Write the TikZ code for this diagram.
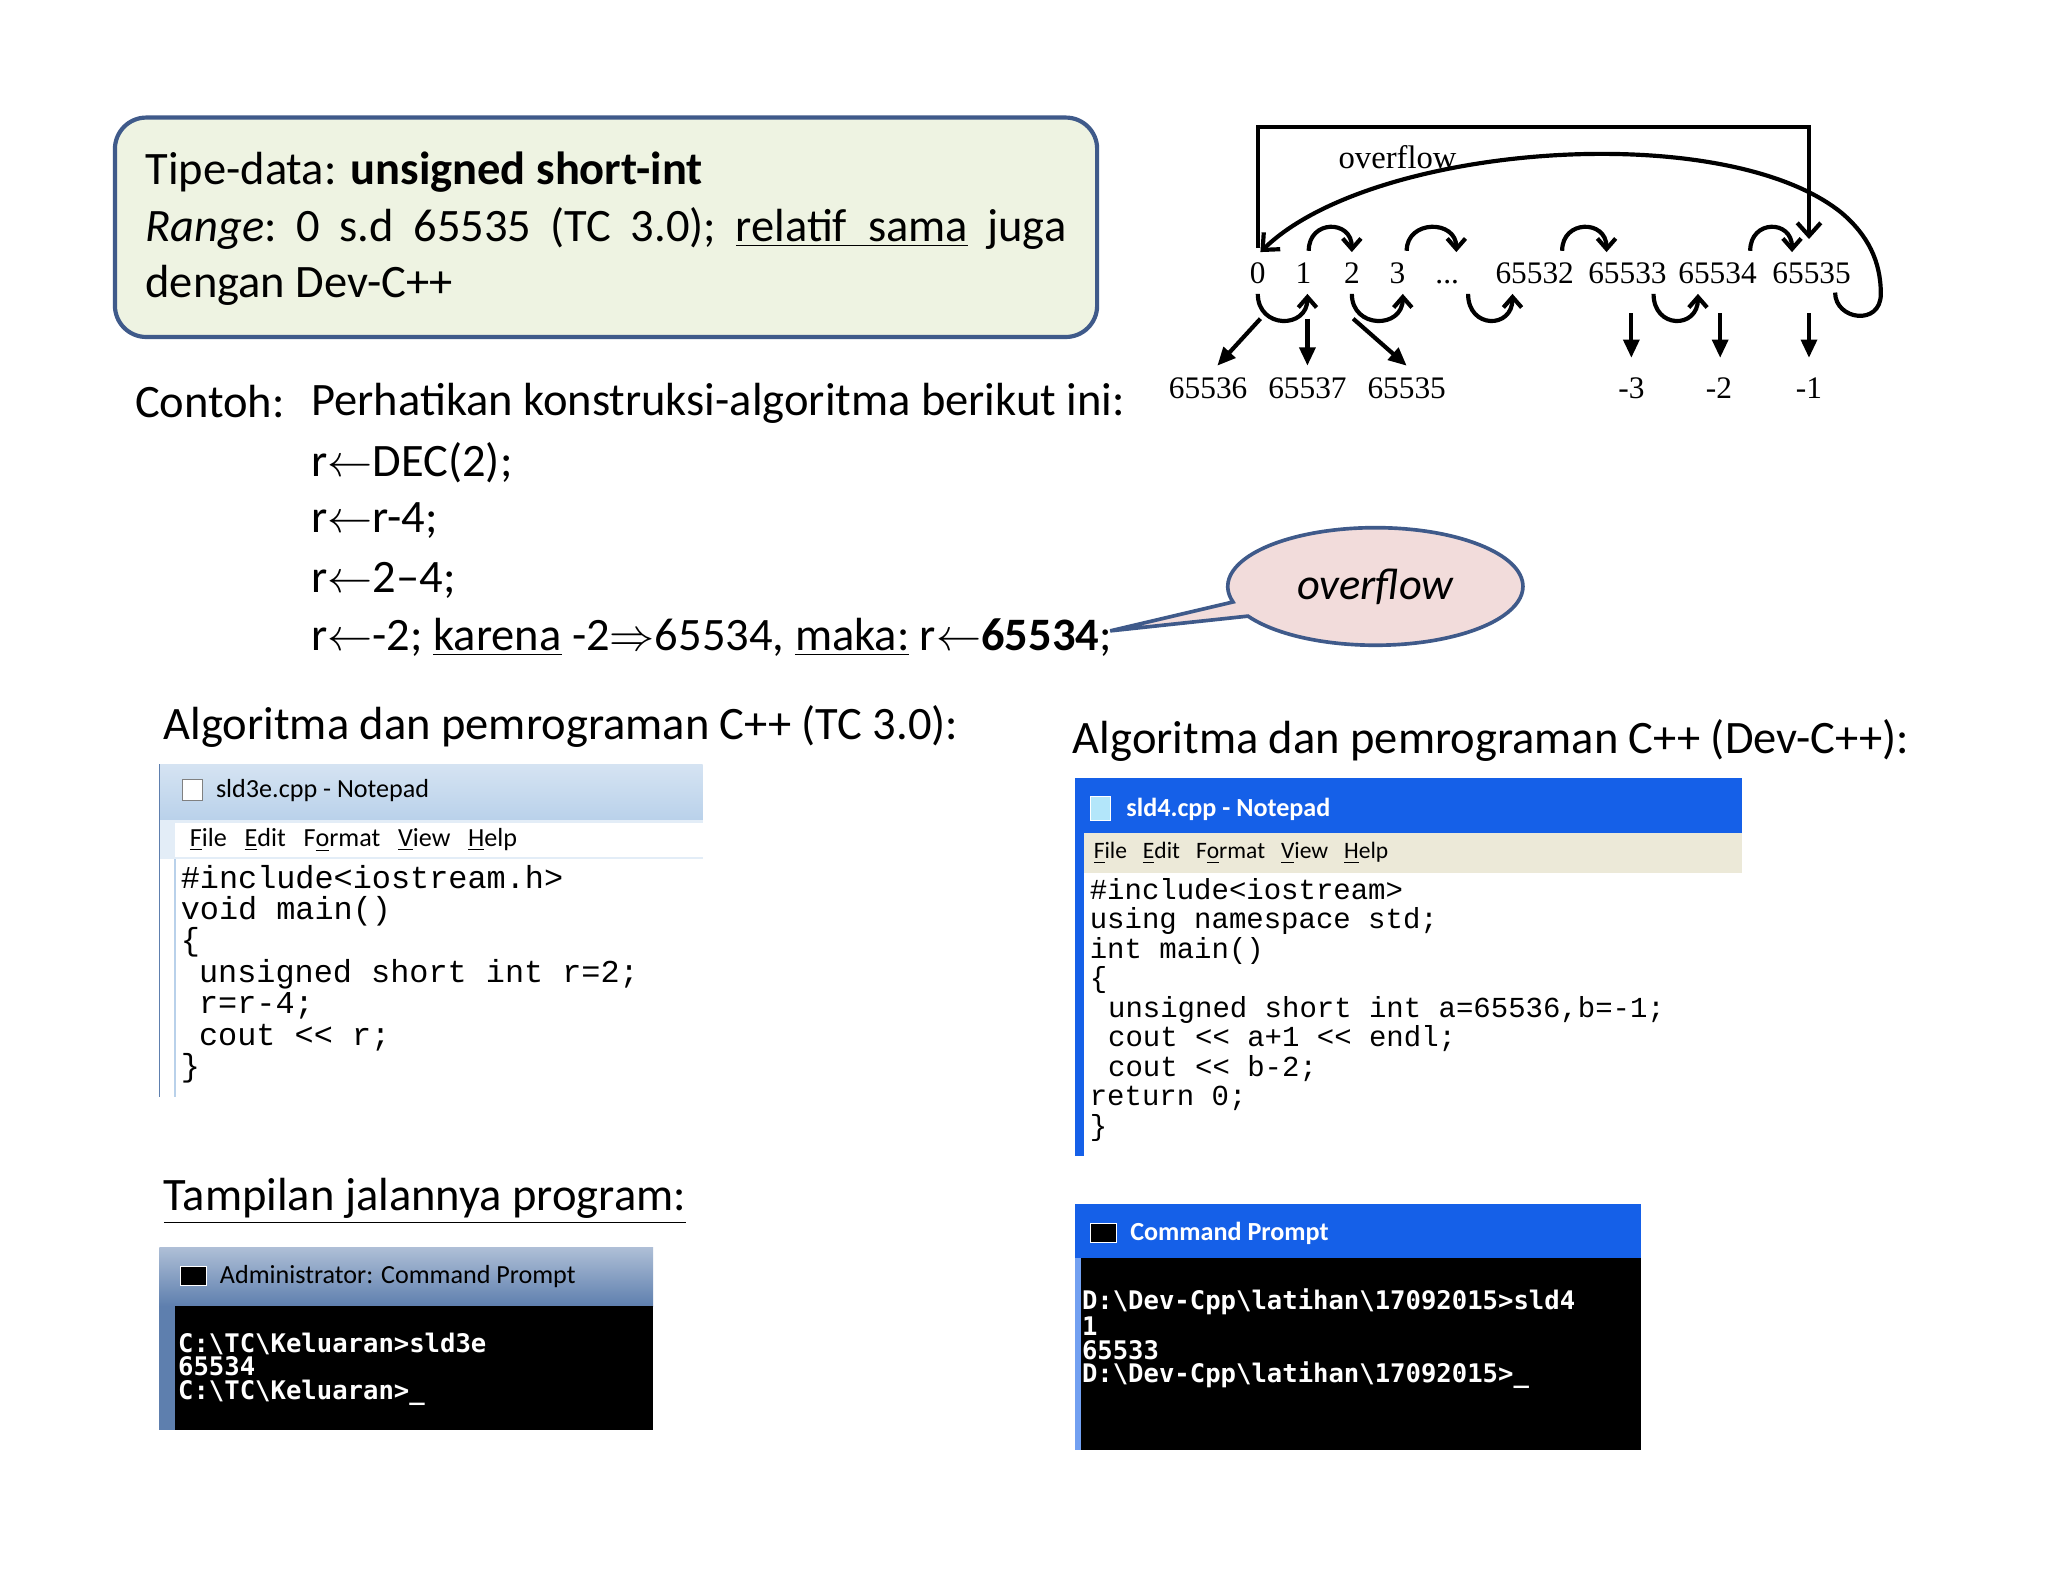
\documentclass[tikz,border=0pt]{standalone}
\usepackage{fontspec}
\setmainfont{Carlito}
\newfontfamily\dserif{Liberation Serif}
\newfontfamily\codef{Liberation Mono}
\newfontfamily\cmdf{DejaVu Sans Mono}
\newcommand\uline[1]{\underline{#1}}
\newcommand\la{\ensuremath{\leftarrow}}
\usetikzlibrary{shapes.callouts,arrows.meta}
\definecolor{boxg}{HTML}{EEF3E2}
\definecolor{bordb}{HTML}{3F5A8A}
\definecolor{pinkc}{HTML}{F2DCDB}
\definecolor{xpblue}{HTML}{1560E8}
\definecolor{xpbeige}{HTML}{ECE9D8}
\definecolor{w7blue}{HTML}{B9D1EA}
\definecolor{w7dark}{HTML}{5E7FAE}
\begin{document}
\begin{tikzpicture}[x=0.5pt,y=-0.5pt,
  txt/.style={anchor=base west,inner sep=0,font=\fontsize{17.8}{21}\selectfont},
  num/.style={anchor=base,inner sep=0,font=\dserif\fontsize{12}{14}\selectfont},
  code/.style={anchor=north west,inner sep=0,align=left,font=\codef\fontsize{12.2}{12}\selectfont},
  cmd/.style={anchor=north west,inner sep=0,align=left,text=white,font=\cmdf\bfseries\fontsize{9.8}{9}\selectfont},
  arr/.style={line width=1.6pt,-{Triangle[length=7pt,width=6pt]}},
  carr/.style={line width=1.6pt,-{Straight Barb[length=4pt,width=7pt]}}]
\useasboundingbox (0,0) rectangle (1568,1211);
\fill[white] (0,0) rectangle (1568,1211);
% info box
\draw[bordb,line width=1.6pt,fill=boxg,rounded corners=12pt] (88,90) rectangle (840,258);
\node[txt] (t1) at (111,141) {Tipe-data: \textbf{unsigned short-int}};
\node[txt] (t2) at (111,185) {\makebox[352.5pt][s]{\textit{Range}:\hfill 0\hfill s.d\hfill 65535\hfill (TC\hfill 3.0);\hfill \uline{relatif\ \ sama}\hfill juga}};
\node[txt] (t3) at (111,228) {dengan Dev-C++};
% example text
\node[txt] (c0) at (103,320) {Contoh:};
\node[txt] (c1) at (238,318) {Perhatikan konstruksi-algoritma berikut ini:};
\node[txt] (c2) at (238,365) {r\la DEC(2);};
\node[txt] (c3) at (238,408) {r\la r-4;};
\node[txt] (c4) at (238,454) {r\la 2--4;};
\node[txt] (c5) at (238,498) {r\la -2; \uline{karena} -2$\Rightarrow$65534, \uline{maka:} r\la\textbf{65534};};
% callout
\coordinate (tip) at (850,483);
\node[ellipse callout,draw=bordb,line width=1.4pt,fill=pinkc,minimum width=113pt,minimum height=45pt,
  callout absolute pointer={(tip)},font=\itshape\fontsize{17}{20}\selectfont] (ov) at (1053,449) {overflow};
% diagram
\foreach \n/\x/\l in {a/963/0,b/998/1,c/1035/2,d/1070/3,e/1108/{...},f/1175/65532,g/1246/65533,h/1315/65534,i/1387/65535}
  \node[num] (n\n) at (\x,217) {\l};
\foreach \n/\x/\l in {A/925/65536,B/1001/65537,C/1077/65535,D/1249/-3,E/1316/-2,F/1385/-1}
  \node[num] (m\n) at (\x,305) {\l};
\draw[line width=1.6pt,-{Straight Barb[length=5pt,width=9pt]}] (963,190) |- (1385,97) -- (1385,183);
\node[font=\dserif\fontsize{12.5}{14}\selectfont] (ovl) at (1070,120) {overflow};
\draw[line width=1.6pt,-{Straight Barb[length=5pt,width=9pt]}] (1405,224) .. controls (1405,245) and (1440,250) .. (1440,225) .. controls (1440,200) and (1430,180) .. (1410,163) .. controls (1320,90) and (1050,110) .. (965,193);
% small hops above
\foreach \xa/\xb in {1002/1035,1077/1115,1196/1230,1340/1372}
  \draw[carr] (\xa,192) .. controls (\xa,168) and (\xb,168) .. (\xb,193);
% hops below
\foreach \xa/\xb in {963/1001,1035/1074,1124/1158,1266/1300}
  \draw[carr] (\xa,225) .. controls (\xa,252) and (\xb,252) .. (\xb,225);
\draw[arr] (965,244) -- (932,280);
\draw[arr] (1001,244) -- (1001,280);
\draw[arr] (1036,244) -- (1077,280);
\draw[arr] (1249,240) -- (1249,274);
\draw[arr] (1317,240) -- (1317,274);
\draw[arr] (1385,240) -- (1385,274);
% headings
\node[txt] (h1) at (125,566) {Algoritma dan pemrograman C++ (TC 3.0):};
\node[txt] (h2) at (821,577) {Algoritma dan pemrograman C++ (Dev-C++):};
\node[txt] (h3) at (125,927) {\uline{Tampilan jalannya program:}};
% notepad 1 (Win7)
\fill[white] (122,585) rectangle (538,840);
\shade[top color=w7blue!60,bottom color=w7blue] (122,585) rectangle (538,628);
\fill[w7blue!40] (122,628) rectangle (538,658);
\fill[white] (134,630) rectangle (538,656);
\draw[w7dark] (122,585) -- (122,840);
\draw[w7blue,line width=1pt] (134,658) -- (134,840);
\node[anchor=west,inner sep=0,font=\fontsize{10}{12}\selectfont] (nt1) at (165,605) {sld3e.cpp - Notepad};
\draw[gray,fill=white] (140,597) rectangle (155,613);
\node[anchor=west,inner sep=0,font=\fontsize{10}{12}\selectfont] (mn1) at (145,643) {\uline{F}ile\ \ \ \uline{E}dit\ \ \ F\uline{o}rmat\ \ \ \uline{V}iew\ \ \ \uline{H}elp};
\node[code] (cd1) at (138,662) {\#include<iostream.h>\\void main()\\\{\\\hspace*{7pt}unsigned short int r=2;\\\hspace*{7pt}r=r-4;\\\hspace*{7pt}cout << r;\\\}};
% notepad 2 (XP)
\fill[white] (823,596) rectangle (1334,885);
\fill[xpblue] (823,596) rectangle (1334,638);
\fill[xpbeige] (823,638) rectangle (1334,668);
\fill[xpblue] (823,638) rectangle (830,885);
\node[anchor=west,inner sep=0,text=white,font=\bfseries\fontsize{10}{12}\selectfont] (nt2) at (862,620) {sld4.cpp - Notepad};
\draw[white,fill=cyan!30] (835,610) rectangle (850,628);
\node[anchor=west,inner sep=0,font=\fontsize{9}{11}\selectfont] (mn2) at (837,653) {\uline{F}ile\ \ \ \uline{E}dit\ \ \ F\uline{o}rmat\ \ \ \uline{V}iew\ \ \ \uline{H}elp};
\node[code,font=\codef\fontsize{11.1}{11.3}\selectfont] (cd2) at (834,672) {\#include<iostream>\\using namespace std;\\int main()\\\{\\\hspace*{7pt}unsigned short int a=65536,b=-1;\\\hspace*{7pt}cout << a+1 << endl;\\\hspace*{7pt}cout << b-2;\\return 0;\\\}};
% cmd 1
\shade[top color=w7dark!50,bottom color=w7dark] (122,955) rectangle (500,1000);
\fill[black] (134,1000) rectangle (500,1095);
\fill[w7dark] (122,1000) rectangle (134,1095);
\draw[white,fill=black] (138,970) rectangle (158,984);
\node[anchor=west,inner sep=0,text=black,font=\fontsize{10}{12}\selectfont] (ct1) at (168,977) {Administrator: Command Prompt};
\node[cmd] (cm1) at (136,1020) {C:\textbackslash TC\textbackslash Keluaran>sld3e\\65534\\C:\textbackslash TC\textbackslash Keluaran>\_};
% cmd 2
\fill[xpblue] (823,922) rectangle (1256,963);
\fill[black] (828,963) rectangle (1256,1110);
\fill[xpblue!60] (823,963) rectangle (828,1110);
\draw[white,fill=black] (835,937) rectangle (855,951);
\node[anchor=west,inner sep=0,text=white,font=\bfseries\fontsize{10}{12}\selectfont] (ct2) at (865,944) {Command Prompt};
\node[cmd] (cm2) at (828,986) {D:\textbackslash Dev-Cpp\textbackslash latihan\textbackslash 17092015>sld4\\1\\65533\\D:\textbackslash Dev-Cpp\textbackslash latihan\textbackslash 17092015>\_};
\end{tikzpicture}
\end{document}
